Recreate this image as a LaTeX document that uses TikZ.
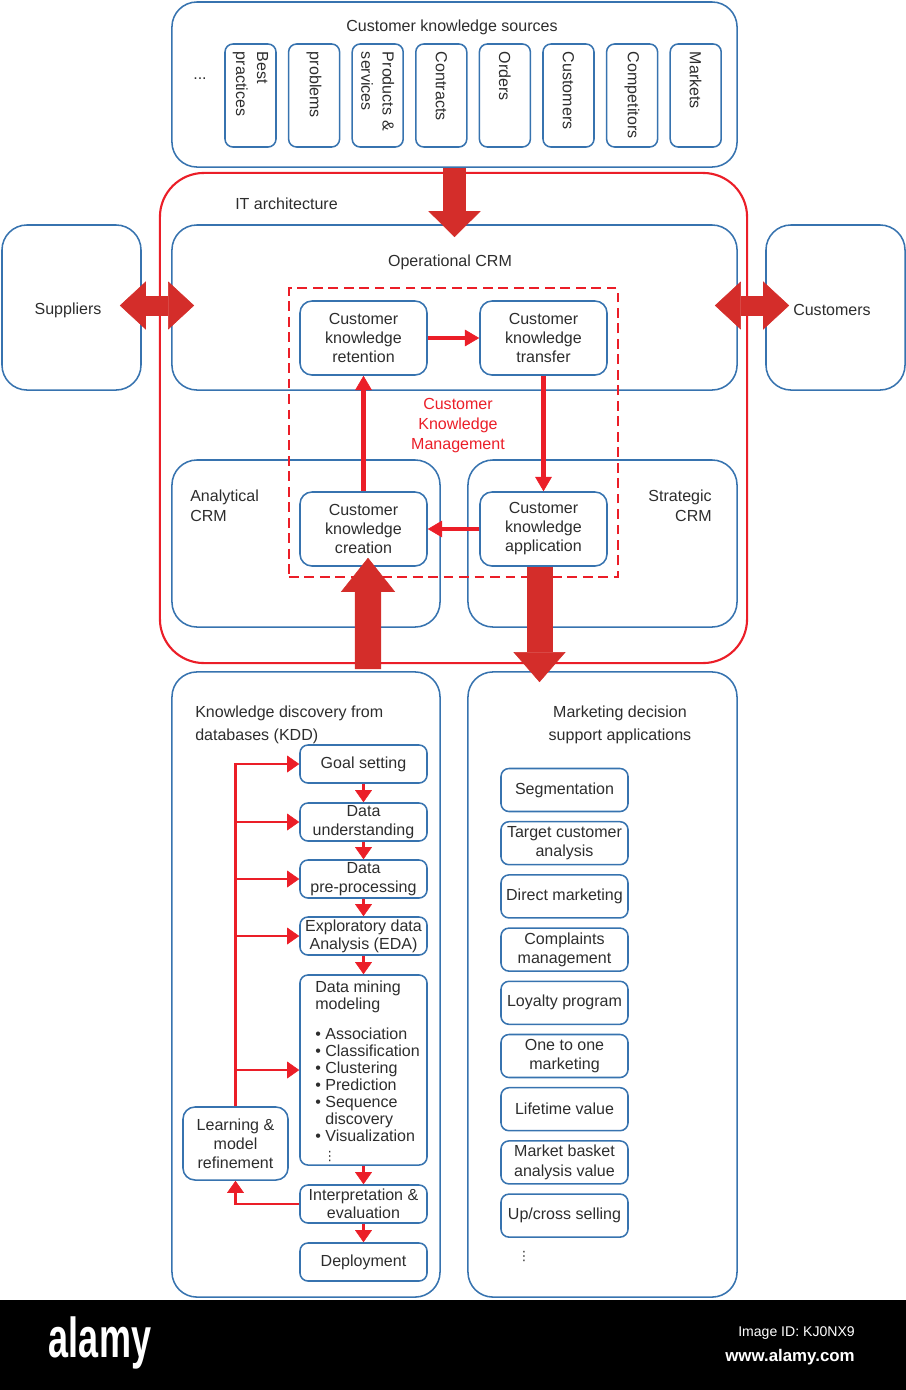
\documentclass[tikz,border=0pt]{standalone}
\usepackage{fontspec}
\setmainfont{Liberation Sans}
\newfontfamily\dotsfont{DejaVu Sans}
\usetikzlibrary{arrows.meta,calc}

\definecolor{boxblue}{RGB}{55,115,175}
\definecolor{linered}{RGB}{235,30,40}
\definecolor{fatred}{RGB}{212,45,42}
\definecolor{txtgrey}{RGB}{45,45,45}

\newcommand{\dfont}{\fontsize{11.4}{13.5}\selectfont}
\newcommand{\vdotsmark}{{\dotsfont ⋮}}

\tikzset{
  lbl/.style={inner sep=0pt, text=txtgrey, font=\fontsize{11.4}{14.2}\selectfont},
  bigbox/.style={draw=boxblue, line width=1.1pt, rounded corners=0.625cm, inner sep=0pt},
  itframe/.style={draw=linered, line width=1.5pt, rounded corners=1.1cm, inner sep=0pt},
  ckmframe/.style={draw=linered, line width=1.4pt, dash pattern=on 7pt off 4pt, inner sep=0pt},
  srcbox/.style={draw=boxblue, line width=1.1pt, rounded corners=0.2cm, rotate=-90,
    minimum width=2.575cm, minimum height=1.275cm, text width=2.175cm, align=left,
    inner sep=0pt, text=txtgrey, font=\fontsize{11.4}{15}\selectfont},
  ckbox/.style={draw=boxblue, line width=1.1pt, rounded corners=0.3cm, align=center,
    minimum width=3.175cm, minimum height=1.85cm, inner sep=1pt, text=txtgrey, font=\dfont},
  stepbox/.style={draw=boxblue, line width=1.1pt, rounded corners=0.2cm, align=center,
    minimum width=3.175cm, minimum height=0.95cm, inner sep=1pt, text=txtgrey,
    font=\fontsize{11.4}{13}\selectfont},
  appbox/.style={draw=boxblue, line width=1.1pt, rounded corners=0.2cm, align=center,
    minimum width=3.175cm, minimum height=1.075cm, inner sep=1pt, text=txtgrey,
    font=\fontsize{11.4}{13.8}\selectfont},
  ckarrow/.style={draw=linered, line width=3.4pt,
    -{Triangle[length=0.36cm,width=0.42cm,line width=0.4pt]}},
  steparrow/.style={draw=linered, line width=2.1pt,
    -{Triangle[length=0.3cm,width=0.42cm,line width=0.4pt]}},
  fatarrow/.style={draw=fatred}
}

\begin{document}
\begin{tikzpicture}[x=0.025cm,y=-0.025cm]
\useasboundingbox (0,0) rectangle (906,1390);

% IT architecture frame
\node[itframe, minimum width=14.675cm, minimum height=12.25cm] (it) at (453.5,418) {};
\node[lbl, anchor=west] (itlbl) at (235,204) {IT architecture};

% Customer knowledge sources
\node[bigbox, minimum width=14.125cm, minimum height=4.125cm] (src) at (454.5,84.5) {};
\node[lbl] (srclbl) at (452,27) {Customer knowledge sources};
\node[lbl] (srcmore) at (200,79) {...};
\foreach \lbl [count=\i from 0] in {{Best\\practices},problems,{Products \&\\services},Contracts,Orders,Customers,Competitors,Markets}
  \node[srcbox] (src\i) at (250.5+63.6*\i,95.5) {\lbl};

% CRM parts
\node[bigbox, minimum width=14.125cm, minimum height=4.125cm] (opcrm) at (454.5,307.5) {};
\node[lbl] (oplbl) at (450,262) {Operational CRM};
\node[bigbox, minimum width=3.475cm, minimum height=4.125cm] (sup) at (71.5,307.5) {};
\node[lbl] (suplbl) at (68,310) {Suppliers};
\node[bigbox, minimum width=3.475cm, minimum height=4.125cm] (cust) at (835.5,307.5) {};
\node[lbl] (custlbl) at (832,310) {Customers};
\node[bigbox, minimum width=6.7cm, minimum height=4.175cm] (anal) at (306,543.5) {};
\node[lbl, anchor=north west, align=left] (anallbl) at (190,490) {Analytical\\CRM};
\node[bigbox, minimum width=6.725cm, minimum height=4.175cm] (strat) at (602.5,543.5) {};
\node[lbl, anchor=north east, align=right] (stratlbl) at (712,490) {Strategic\\CRM};

% Customer knowledge management
\node[ckmframe, minimum width=8.225cm, minimum height=7.2cm] (ckm) at (453.5,432.5) {};
\node[lbl, text=linered, align=center] (ckmlbl) at (458,426) {Customer\\Knowledge\\Management};
\node[ckbox] (retain) at (363.5,338) {Customer\\knowledge\\retention};
\node[ckbox] (transfer) at (543.5,338) {Customer\\knowledge\\transfer};
\node[ckbox] (create) at (363.5,529) {Customer\\knowledge\\creation};
\node[ckbox] (apply) at (543.5,529) {Customer\\knowledge\\application};
\draw[ckarrow] (retain) -- (transfer);
\draw[ckarrow] (transfer) -- (apply);
\draw[ckarrow] (apply) -- (create);
\draw[ckarrow] (create) -- (retain);

% KDD and marketing boxes
\node[bigbox, minimum width=6.7cm, minimum height=15.625cm] (kdd) at (306,984.5) {};
\node[lbl, anchor=north west, align=left, font=\fontsize{11.4}{16.4}\selectfont] (kddlbl) at (195,706) {Knowledge discovery from\\databases (KDD)};
\node[bigbox, minimum width=6.725cm, minimum height=15.625cm] (mkt) at (602.5,984.5) {};
\node[lbl, align=center, font=\fontsize{11.4}{16.4}\selectfont] (mktlbl) at (620,725) {Marketing decision\\support applications};

% big arrows
\draw[fatarrow, line width=0.575cm, -{Triangle[length=0.65cm,width=1.3cm,line width=0.4pt]}] (src.south) -- ($(opcrm.north)+(0,13)$);
\draw[fatarrow, line width=0.5cm, {Triangle[length=0.65cm,width=1.2cm,line width=0.4pt]}-{Triangle[length=0.65cm,width=1.2cm,line width=0.4pt]}] ($(sup.east)+(-22,-2)$) -- ($(opcrm.west)+(23,-2)$);
\draw[fatarrow, line width=0.5cm, {Triangle[length=0.65cm,width=1.2cm,line width=0.4pt]}-{Triangle[length=0.65cm,width=1.2cm,line width=0.4pt]}] ($(opcrm.east)+(-23,-2)$) -- ($(cust.west)+(24,-2)$);
\draw[fatarrow, line width=0.65cm, -{Triangle[length=0.85cm,width=1.35cm,line width=0.4pt]}] ($(kdd.north)+(62,-2)$) -- ($(create.south)+(4.5,-9)$);
\draw[fatarrow, line width=0.65cm, -{Triangle[length=0.75cm,width=1.3cm,line width=0.4pt]}] ($(apply.south)+(-4,0)$) -- ($(mkt.north)+(-63,11)$);

% KDD steps
\node[stepbox] (goal) at (363.5,764) {Goal setting};
\node[stepbox] (und) at (363.5,822) {Data\\understanding};
\node[stepbox] (pre) at (363.5,879) {Data\\pre-processing};
\node[stepbox] (eda) at (363.5,936) {Exploratory data\\Analysis (EDA)};
\node[stepbox, minimum height=4.75cm] (mine) at (363.5,1070) {};
\node[lbl, anchor=north west, align=left, font=\fontsize{11.4}{12.1}\selectfont] (minetxt) at (315,981)
  {Data mining\\modeling\\[9pt]\textbullet\ Association\\\textbullet\ Classification\\\textbullet\ Clustering\\\textbullet\ Prediction\\\textbullet\ Sequence\\\hphantom{\textbullet\ }discovery\\\textbullet\ Visualization\\[1pt]\hspace*{0.5em}\scalebox{0.8}{\vdotsmark}};
\node[stepbox] (interp) at (363.5,1204) {Interpretation \&\\evaluation};
\node[stepbox] (deploy) at (363.5,1262) {Deployment};
\node[stepbox, minimum width=2.625cm, minimum height=1.825cm, rounded corners=0.3cm, font=\dfont] (learn) at (235.5,1143.5) {Learning \&\\model\\refinement};

\foreach \a/\b in {goal/und,und/pre,pre/eda,eda/mine,mine/interp,interp/deploy}
  \draw[steparrow] (\a) -- (\b);
\coordinate (fbtop) at (learn.north |- goal.west);
\draw[steparrow] (learn.north) -- (fbtop) -- (goal.west);
\foreach \s in {und,pre,eda,mine}
  \draw[steparrow] (learn.north |- \s.west) -- (\s.west);
\draw[steparrow] (interp.west) -| (learn.south);

% marketing applications
\foreach \lbl [count=\i from 0] in {Segmentation,{Target customer\\analysis},Direct marketing,{Complaints\\management},Loyalty program,{One to one\\marketing},Lifetime value,{Market basket\\analysis value},Up/cross selling}
  \node[appbox] (app\i) at (564.5,790+53.2*\i) {\lbl};
\node[lbl] (appmore) at (524,1256) {\scalebox{0.8}{\vdotsmark}};

% footer bar
\fill[black] (0,1300) rectangle (906,1390);
\node[text=white, inner sep=0pt, font=\bfseries\fontsize{40}{40}\selectfont] (alamy) at (100,1343) {\scalebox{0.64}[1]{alamy}};
\node[text=white, anchor=east, inner sep=0pt, font=\fontsize{10}{10}\selectfont] (imgid) at (855,1333) {Image ID: KJ0NX9};
\node[text=white, anchor=east, inner sep=0pt, font=\bfseries\fontsize{12}{12}\selectfont] (www) at (855,1357) {www.alamy.com};
\end{tikzpicture}
\end{document}
